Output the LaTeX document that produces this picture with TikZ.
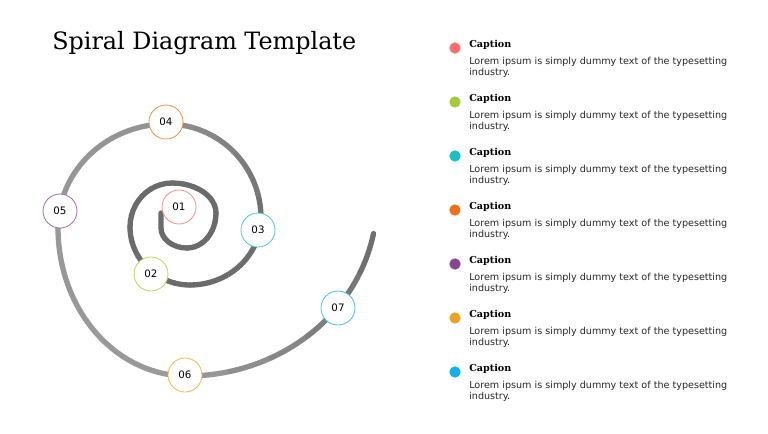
\documentclass[tikz,border=0pt]{standalone}
\usepackage{fontspec}
\setmainfont{DejaVu Sans}
\newfontfamily\titlefont{DejaVu Serif}
\usepackage{tikz}
\definecolor{spdark}{HTML}{6B6B6B}
\definecolor{splight}{HTML}{9C9C9C}
\definecolor{c1}{HTML}{FA6E6E}
\definecolor{c2}{HTML}{A3CB38}
\definecolor{c3}{HTML}{1BBFC6}
\definecolor{c4}{HTML}{F07015}
\definecolor{c5}{HTML}{8E4390}
\definecolor{c6}{HTML}{EDA21F}
\definecolor{c7}{HTML}{12AEEE}

\begin{document}
\begin{tikzpicture}[x=0.75pt, y=-0.75pt,
  spiral/.style={line width=4pt, line cap=round},
  num/.style={circle, draw=#1!80, fill=white, line width=0.6pt, minimum size=25.5pt,
    inner sep=0pt, font=\fontsize{7.7}{9}\selectfont},
  dot/.style={circle, fill=#1, minimum size=8.5pt, inner sep=0pt},
  captext/.style={anchor=west, inner sep=0pt, font=\titlefont\bfseries\fontsize{7.2}{8}\selectfont},
  txt/.style={anchor=north west, inner sep=0pt, align=left, font=\fontsize{7.2}{8.3}\selectfont, text=black!85}]
  \useasboundingbox (0,0) rectangle (768,433);
  \node[anchor=west, inner sep=0pt, font=\titlefont\fontsize{17.9}{20}\selectfont] (title) at (52,43) {Spiral Diagram Template};

  \draw[spiral, spdark] (161,213) -- (161,228) arc[start angle=180, end angle=90, x radius=26, y radius=20];
  \foreach \cx/\cy/\rx/\ry/\a/\b/\p/\q in {
      187/213/29/35/90/0/100/100, 172/213/44/30/0/-90/100/100,
      172/227/42/44/270/180/100/100, 190/227/60/58/180/90/100/100,
      190/218/71/67/90/0/100/90, 167/218/94/94/0/-90/90/25,
      167/228/109/104/270/180/20/8, 187/228/129/148/180/90/8/5,
      187/200/190/176/90/11/5/100}
  {
    \foreach \k in {1,...,6} {
      \pgfmathsetmacro\s{\a+(\b-\a)*(\k-1)/6}
      \pgfmathsetmacro\e{\a+(\b-\a)*\k/6}
      \pgfmathsetmacro\m{\p+(\q-\p)*(\k-0.5)/6}
      \draw[spiral, spdark!\m!splight] (\cx,\cy) ++({\s}:{\rx} and {\ry}) arc[start angle=\s, end angle=\e, x radius=\rx, y radius=\ry];
    }
  }

  \node[num=c1] (n1) at (179,207) {01};
  \node[num=c2] (n2) at (151,274) {02};
  \node[num=c3] (n3) at (258,230) {03};
  \node[num=c4] (n4) at (166,122) {04};
  \node[num=c5] (n5) at (60,211) {05};
  \node[num=c6] (n6) at (185,375) {06};
  \node[num=c7] (n7) at (338,308) {07};

  \foreach \i in {1,...,7} {
    \node[dot=c\i] (dot\i) at (455,{48+54*(\i-1)}) {};
    \node[captext] (cap\i) at (469,{45+54*(\i-1)}) {Caption};
    \node[txt] (txt\i) at (469,{57+54*(\i-1)}) {Lorem ipsum is simply dummy text of the typesetting\\industry.};
  }
\end{tikzpicture}
\end{document}
